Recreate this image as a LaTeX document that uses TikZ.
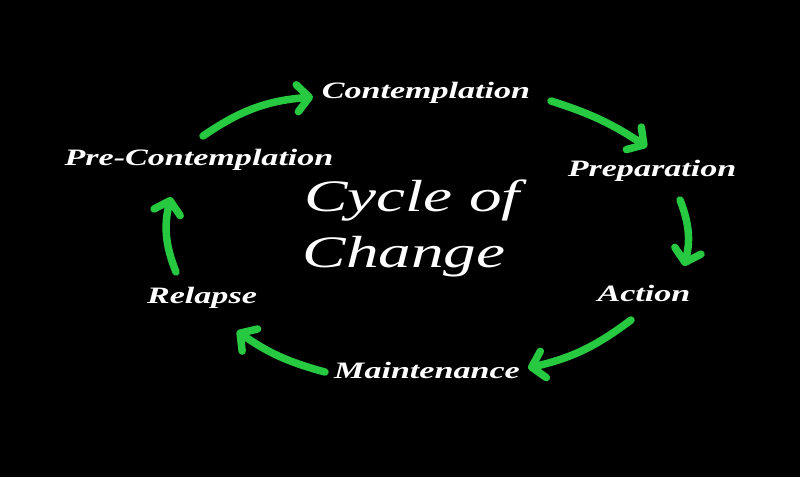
\documentclass[tikz,border=0pt]{standalone}
\usepackage{fontspec}
\setmainfont{Liberation Serif}
\usetikzlibrary{arrows.meta,positioning}
\definecolor{cycgreen}{RGB}{38,201,64}

\tikzset{
  stage/.style={text=white,inner sep=0pt,xscale=1.45,font=\bfseries\itshape\fontsize{23.5}{26}\selectfont},
  title/.style={text=white,inner sep=0pt,xscale=1.45,font=\itshape\fontsize{45}{50}\selectfont},
  cyc/.style={draw=cycgreen,line width=7.5pt,line cap=round,
    -{Straight Barb[round,length=12pt,width=27pt]}}
}

\begin{document}
\begin{tikzpicture}[x=1pt,y=-1pt]
	\fill[black] (0,0) rectangle (800,477);
	\useasboundingbox (0,0) rectangle (800,477);

	% stages
	\node[stage] (con) at (426,93) {Contemplation};
	\node[stage] (prep) at (652,171) {Preparation};
	\node[stage] (act) at (644,293) {Action};
	\node[stage] (main) at (427,370) {Maintenance};
	\node[stage] (rel) at (202,298) {Relapse};
	\node[stage] (pre) at (199,160) {Pre-Contemplation};

	% centre text
	\node[title] (cyc1) at (412,201) {Cycle of};
	\node[title] (cyc2) at (404,257) {Change};

	% arrow ends
	\coordinate (a1) at (203,136); \coordinate (b1) at (313,97);
	\coordinate (a2) at (551,101); \coordinate (b2) at (647,147);
	\coordinate (a3) at (680,200); \coordinate (b3) at (684,266);
	\coordinate (a4) at (631,320); \coordinate (b4) at (528,368);
	\coordinate (a5) at (325,372); \coordinate (b5) at (237,331);
	\coordinate (a6) at (176,272); \coordinate (b6) at (171,197);

	\draw[cyc] (a1) to[bend left=15] (b1);
	\draw[cyc] (a2) to[bend left=8] (b2);
	\draw[cyc] (a3) to[bend left=18] (b3);
	\draw[cyc] (a4) to[bend left=12] (b4);
	\draw[cyc] (a5) to[bend left=10] (b5);
	\draw[cyc] (a6) to[bend left=18] (b6);
\end{tikzpicture}
\end{document}
